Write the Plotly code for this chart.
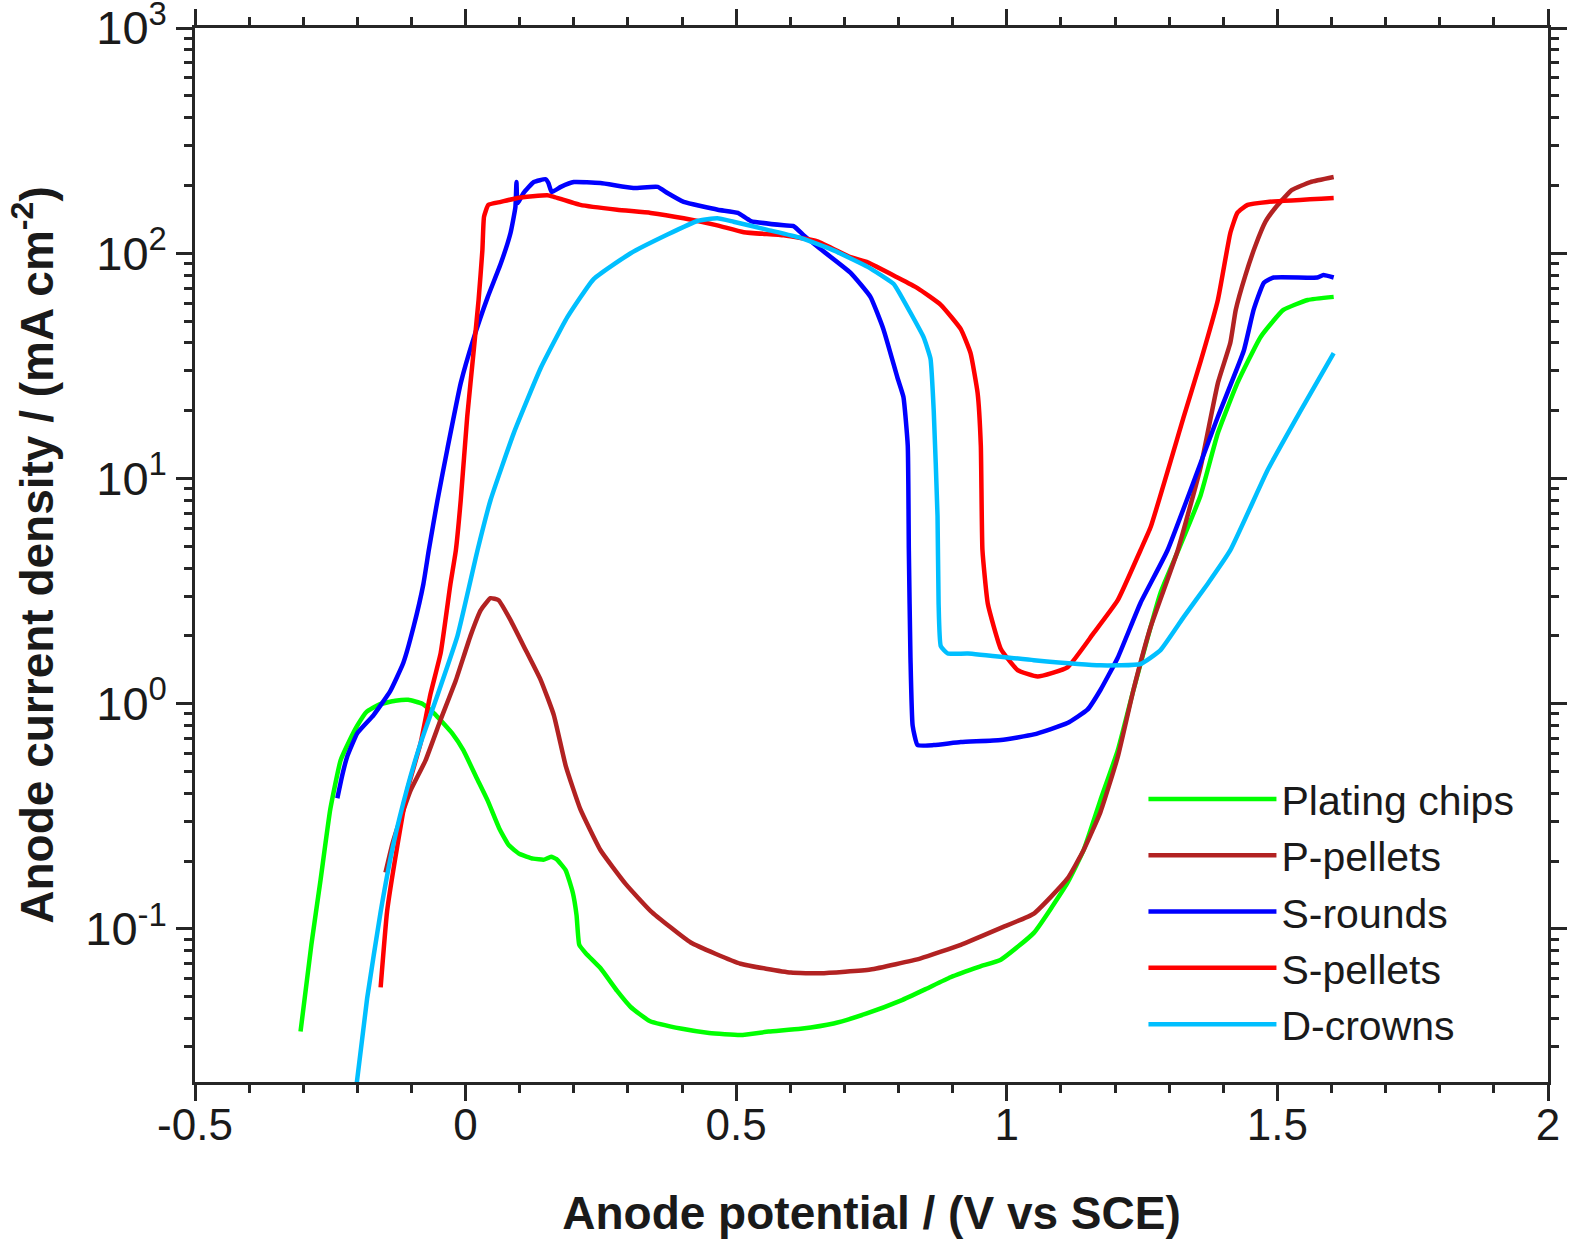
import plotly.graph_objects as go
import numpy as np

# ---------------- data ----------------
plating_x = [-0.305, -0.285, -0.268, -0.250, -0.231, -0.214, -0.200, -0.183, -0.160, -0.130, -0.106,
             -0.080, -0.055, -0.025, -0.004, 0.020, 0.041, 0.062, 0.080, 0.100, 0.125, 0.145, 0.158,
             0.168, 0.185, 0.198, 0.205, 0.210, 0.222, 0.249, 0.280, 0.305, 0.340, 0.400, 0.450,
             0.508, 0.560, 0.619, 0.680, 0.740, 0.804, 0.850, 0.896, 0.950, 0.989, 1.050, 1.112,
             1.142, 1.173, 1.205, 1.234, 1.284, 1.317, 1.358, 1.390, 1.426, 1.469, 1.511, 1.556, 1.604]
plating_y = [0.035, 0.085, 0.165, 0.34, 0.56, 0.69, 0.80, 0.92, 0.99, 1.03, 1.04,
             1.00, 0.89, 0.74, 0.62, 0.47, 0.37, 0.28, 0.235, 0.215, 0.205, 0.203, 0.209,
             0.204, 0.182, 0.145, 0.115, 0.085, 0.078, 0.067, 0.053, 0.045, 0.039, 0.036, 0.0345,
             0.0338, 0.035, 0.036, 0.038, 0.042, 0.048, 0.054, 0.061, 0.068, 0.073, 0.096, 0.16,
             0.224, 0.373, 0.62, 1.15, 3.1, 4.8, 8.4, 15.9, 26.5, 42.5, 56, 62, 64]

ppellets_x = [-0.148, -0.135, -0.120, -0.102, -0.074, -0.046, -0.018, 0.009, 0.028, 0.046, 0.061,
              0.083, 0.111, 0.139, 0.163, 0.185, 0.212, 0.249, 0.296, 0.342, 0.416, 0.508, 0.601,
              0.656, 0.748, 0.841, 0.915, 0.989, 1.050, 1.112, 1.142, 1.173, 1.205, 1.234, 1.266,
              1.316, 1.358, 1.390, 1.413, 1.423, 1.441, 1.460, 1.478, 1.497, 1.527, 1.561, 1.604]
ppellets_y = [0.178, 0.24, 0.31, 0.41, 0.56, 0.85, 1.27, 2.0, 2.6, 2.94, 2.88,
              2.35, 1.73, 1.27, 0.89, 0.53, 0.34, 0.224, 0.158, 0.12, 0.087, 0.070, 0.064,
              0.0635, 0.066, 0.074, 0.085, 0.101, 0.117, 0.167, 0.224, 0.33, 0.58, 1.15, 2.2,
              4.8, 11.2, 26.5, 40, 56, 80, 109, 138, 160, 191, 207, 218]

srounds_x = [-0.237, -0.228, -0.219, -0.200, -0.170, -0.139, -0.115, -0.096, -0.078, -0.068, -0.052,
             -0.034, -0.009, 0.015, 0.041, 0.065, 0.083, 0.092, 0.094, 0.096, 0.107, 0.126, 0.148,
             0.153, 0.159, 0.176, 0.200, 0.249, 0.310, 0.355, 0.373, 0.403, 0.466, 0.503, 0.527,
             0.588, 0.606, 0.625, 0.650, 0.711, 0.748, 0.772, 0.798, 0.809, 0.817, 0.819, 0.822,
             0.826, 0.835, 0.865, 0.915, 0.989, 1.050, 1.112, 1.149, 1.173, 1.205, 1.247, 1.297,
             1.390, 1.438, 1.456, 1.475, 1.493, 1.574, 1.585, 1.604]
srounds_y = [0.38, 0.48, 0.58, 0.74, 0.89, 1.14, 1.52, 2.2, 3.4, 4.8, 8.0,
             13.4, 26.5, 42, 64, 90, 123, 160, 207, 167, 185, 207, 213,
             205, 187, 197, 207, 205, 195, 197, 185, 169, 156, 151, 139,
             133, 132, 120, 107, 82, 64, 46, 28, 23, 14, 4.8, 1.6,
             0.8, 0.655, 0.655, 0.675, 0.69, 0.73, 0.82, 0.94, 1.15, 1.6, 2.8, 4.8,
             18.8, 37, 56, 74, 78, 78, 80, 78]

spellets_x = [-0.157, -0.145, -0.126, -0.108, -0.083, -0.065, -0.046, -0.028, -0.018, -0.009, 0.003,
              0.015, 0.024, 0.031, 0.034, 0.042, 0.065, 0.096, 0.151, 0.163, 0.212, 0.280, 0.342,
              0.403, 0.465, 0.514, 0.588, 0.650, 0.711, 0.743, 0.798, 0.835, 0.878, 0.915, 0.933,
              0.946, 0.952, 0.955, 0.965, 0.989, 1.020, 1.057, 1.112, 1.160, 1.205, 1.247, 1.266,
              1.327, 1.358, 1.390, 1.413, 1.426, 1.445, 1.482, 1.604]
spellets_y = [0.055, 0.12, 0.235, 0.41, 0.67, 1.1, 1.68, 3.4, 4.8, 8.0, 18.8,
              37, 62, 103, 145, 164, 169, 176, 181, 178, 164, 156, 151,
              143, 133, 124, 120, 113, 96, 91, 78, 70, 59, 46, 36,
              24, 14, 4.8, 2.77, 1.75, 1.41, 1.32, 1.45, 2.05, 2.88, 4.8, 6.1,
              18.8, 33, 62, 123, 151, 164, 169, 176]

dcrowns_x = [-0.203, -0.182, -0.157, -0.133, -0.108, -0.083, -0.052, -0.015, 0.022, 0.046, 0.089,
             0.139, 0.188, 0.237, 0.305, 0.373, 0.428, 0.465, 0.495, 0.558, 0.619, 0.680, 0.743,
             0.791, 0.804, 0.846, 0.859, 0.865, 0.872, 0.874, 0.878, 0.891, 0.928, 1.050, 1.173,
             1.247, 1.284, 1.327, 1.371, 1.413, 1.482, 1.543, 1.604]
dcrowns_y = [0.019, 0.049, 0.119, 0.24, 0.42, 0.67, 1.09, 2.0, 4.8, 8.0, 15.9,
             31, 52, 77, 100, 121, 139, 143, 138, 127, 117, 103, 87,
             73, 65, 42.5, 34, 19.9, 6.8, 2.77, 1.8, 1.67, 1.67, 1.56, 1.48,
             1.5, 1.73, 2.43, 3.4, 4.8, 10.9, 20, 36]

series = [
    ("Plating chips", plating_x, plating_y, "#00ff00"),
    ("P-pellets", ppellets_x, ppellets_y, "#b22222"),
    ("S-rounds", srounds_x, srounds_y, "#0000ff"),
    ("S-pellets", spellets_x, spellets_y, "#ff0000"),
    ("D-crowns", dcrowns_x, dcrowns_y, "#00bfff"),
]

y_major = [0.1, 1, 10, 100, 1000]
y_major_text = ["10<sup>-1</sup>", "10<sup>0</sup>", "10<sup>1</sup>", "10<sup>2</sup>", "10<sup>3</sup>"]
x_major = [-0.5, 0, 0.5, 1, 1.5, 2]
x_major_text = ["-0.5", "0", "0.5", "1", "1.5", "2"]

# ---------------- figure ----------------
fig = go.Figure()
for name, xs, ys, col in series:
    fig.add_trace(go.Scatter(x=xs, y=ys, mode="lines", name=name,
                             line=dict(color=col, width=4.5, shape="spline", smoothing=0.4)))

axcol = "#262626"
txtcol = "#1a1a1a"
font_family = "Liberation Sans, Arial, sans-serif"

minor_y = [m * 10.0 ** e for e in range(-2, 3) for m in range(2, 10)]

fig.update_layout(
    width=1570, height=1244,
    margin=dict(l=195, r=22, t=28, b=162, autoexpand=False),
    paper_bgcolor="white", plot_bgcolor="white",
    font=dict(family=font_family, color=txtcol, size=44),
    legend=dict(x=0.701, y=0.300, xanchor="left", yanchor="top",
                bgcolor="rgba(0,0,0,0)", font=dict(size=41, color=txtcol),
                itemwidth=128, tracegroupgap=0),
    showlegend=True,
)

fig.update_xaxes(
    range=[-0.5, 2], tickvals=x_major, ticktext=x_major_text, automargin=False,
    showline=True, linecolor=axcol, linewidth=2.5, mirror="allticks",
    ticks="outside", ticklen=16, tickwidth=2.5, tickcolor=axcol,
    ticklabelstandoff=-14, ticklabeloverflow="allow",
    minor=dict(dtick=0.1, ticks="outside", ticklen=8, tickwidth=2.5, tickcolor=axcol, showgrid=False),
    showgrid=False, zeroline=False,
    tickfont=dict(size=44, color=txtcol),
    title=dict(text="<b>Anode potential / (V vs SCE)</b>", font=dict(size=46, color=txtcol), standoff=50),
)
fig.update_yaxes(
    type="log", range=[np.log10(0.0209), 3], tickvals=y_major, ticktext=y_major_text, automargin=False,
    showline=True, linecolor=axcol, linewidth=2.5, mirror="allticks",
    ticks="outside", ticklen=16, tickwidth=2.5, tickcolor=axcol,
    ticklabeloverflow="allow",
    minor=dict(tickvals=minor_y, ticks="outside", ticklen=8, tickwidth=2.5, tickcolor=axcol, showgrid=False),
    showgrid=False, zeroline=False,
    tickfont=dict(size=47, color=txtcol),
    title=dict(text="<b>Anode current density / (mA cm<sup>-2</sup>)</b>", font=dict(size=46, color=txtcol), standoff=18),
)

fig.write_html("out.html")
